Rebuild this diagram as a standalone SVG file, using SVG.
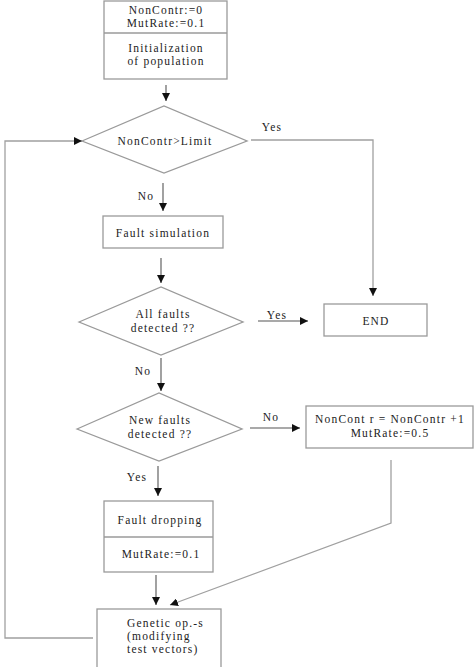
<svg xmlns="http://www.w3.org/2000/svg" width="474" height="667" viewBox="0 0 474 667">
<style>
.s{fill:none;stroke:#9a9a9a;stroke-width:1.3}
.c{fill:none;stroke:#555;stroke-width:1.1}
.g{fill:none;stroke:#a0a0a0;stroke-width:1.3}
text{font-family:"Liberation Serif","Times New Roman",serif;font-size:11.5px;fill:#222;letter-spacing:1.2px;text-anchor:middle}
.l{text-anchor:start}
</style>
<defs>
<marker id="a" viewBox="0 0 10 10" refX="10" refY="5" markerWidth="8" markerHeight="8" markerUnits="userSpaceOnUse" orient="auto">
<path d="M0,0L10,5L0,10z" fill="#111"/>
</marker>
</defs>
<rect width="474" height="667" fill="#fff"/>
<g id="init">
<rect class="s" x="104" y="1" width="123" height="78"/>
<line class="s" x1="104" y1="33" x2="227" y2="33"/>
<text x="166" y="14">NonContr:=0</text>
<text x="166" y="27">MutRate:=0.1</text>
<text x="166" y="52">Initialization</text>
<text x="166" y="65">of population</text>
</g>
<g id="limit">
<polygon class="s" points="82,141 164,106 247,141 164,173"/>
<text x="165" y="145">NonContr&gt;Limit</text>
</g>
<g id="faultsim">
<rect class="s" x="103" y="216" width="120" height="32"/>
<text x="163" y="237">Fault simulation</text>
</g>
<g id="allfaults">
<polygon class="s" points="79,322 161,287 243,322 161,355"/>
<text x="163" y="318">All faults</text>
<text x="163" y="332">detected ??</text>
</g>
<g id="end">
<rect class="s" x="324" y="304" width="103" height="32"/>
<text x="376" y="325">END</text>
</g>
<g id="newfaults">
<polygon class="s" points="77,429 159,393 242,429 159,461"/>
<text x="160" y="424">New faults</text>
<text x="160" y="438">detected ??</text>
</g>
<g id="noncontr">
<rect class="s" x="306" y="406" width="167" height="42"/>
<text x="390" y="423">NonCont r = NonContr +1</text>
<text x="390" y="437">MutRate:=0.5</text>
</g>
<g id="dropping">
<rect class="s" x="104" y="501" width="109" height="71"/>
<line class="s" x1="104" y1="537" x2="213" y2="537"/>
<text x="160" y="524">Fault dropping</text>
<text x="161" y="558">MutRate:=0.1</text>
</g>
<g id="genetic">
<rect class="s" x="97" y="609" width="124" height="62"/>
<text class="l" x="127" y="627">Genetic op.-s</text>
<text class="l" x="127" y="640">(modifying</text>
<text class="l" x="127" y="653">test vectors)</text>
</g>
<g id="connectors">
<line class="c" x1="166" y1="85" x2="166" y2="101" marker-end="url(#a)"/>
<polyline class="g" points="251,140 373,140 373,296" marker-end="url(#a)"/>
<line class="c" x1="163" y1="183" x2="163" y2="211" marker-end="url(#a)"/>
<line class="c" x1="161" y1="258" x2="161" y2="283" marker-end="url(#a)"/>
<line class="c" x1="258" y1="321" x2="308" y2="321" marker-end="url(#a)"/>
<line class="c" x1="161" y1="358" x2="161" y2="391" marker-end="url(#a)"/>
<line class="c" x1="250" y1="428" x2="300" y2="428" marker-end="url(#a)"/>
<line class="c" x1="158" y1="466" x2="158" y2="496" marker-end="url(#a)"/>
<line class="c" x1="156" y1="575" x2="156" y2="605" marker-end="url(#a)"/>
<polyline class="g" points="391,460 391,523 170,605" marker-end="url(#a)"/>
<polyline class="g" points="93,638 5,638 5,141 82,141" marker-end="url(#a)"/>
<text x="272" y="131">Yes</text>
<text x="146" y="200">No</text>
<text x="277" y="319">Yes</text>
<text x="143" y="375">No</text>
<text x="271" y="421">No</text>
<text x="137" y="481">Yes</text>
</g>
</svg>
